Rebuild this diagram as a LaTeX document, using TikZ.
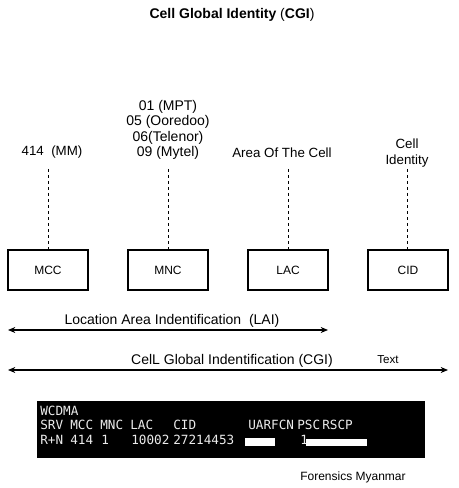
\documentclass[tikz,border=0pt]{standalone}
\usepackage{fontspec}
\setmainfont{Liberation Sans}
\newfontfamily\monof{DejaVu Sans Mono}
\usetikzlibrary{arrows.meta}
\begin{document}
\begin{tikzpicture}[x=0.75pt,y=-0.75pt,
  box/.style={draw,line width=0.8pt,minimum width=60pt,minimum height=30pt,inner sep=0pt,font=\fontsize{9pt}{10.5pt}\selectfont},
  lbl/.style={align=center,inner sep=0pt,font=\fontsize{10pt}{12pt}\selectfont},
  conn/.style={line width=0.6pt,dash pattern=on 2.5pt off 2pt},
  span/.style={line width=0.8pt,{Stealth[length=5.5pt,width=4.5pt]}-{Stealth[length=5.5pt,width=4.5pt]}},
  term/.style={anchor=base west,inner sep=0pt,text=black!8,font=\monof\fontsize{9.5pt}{11pt}\selectfont}]
\useasboundingbox (0,0) rectangle (458,488);
\fill[white] (0,0) rectangle (458,488);

\node[inner sep=0pt,font=\fontsize{10.5pt}{12pt}\selectfont] (title) at (232,15) {\textbf{Cell Global Identity} (\textbf{CGI})};

% labels
\node[lbl] (mccl) at (52,152) {414\ \ (MM)};
\node[lbl,font=\fontsize{10.5pt}{11.6pt}\selectfont] (mncl) at (168,130) {01 (MPT)\\05 (Ooredoo)\\06(Telenor)\\09 (Mytel)};
\node[lbl] (lacl) at (282,153) {Area Of The Cell};
\node[lbl,font=\fontsize{10pt}{12.2pt}\selectfont] (cidl) at (407,153) {Cell\\Identity};

% boxes
\node[box] (mcc) at (48,270) {MCC};
\node[box] (mnc) at (168,270) {MNC};
\node[box] (lac) at (288,270) {LAC};
\node[box] (cid) at (408,270) {CID};

\coordinate (mcct) at (48,169);
\coordinate (mnct) at (168,169);
\coordinate (lact) at (288,169);
\coordinate (cidt) at (407,169);
\draw[conn] (mcct) -- (mcc.north);
\draw[conn] (mnct) -- (mnc.north);
\draw[conn] (lact) -- (lac.north);
\draw[conn] (cidt) -- (cid.north -| cidt);

% spans
\coordinate (laiL) at (8,330);
\coordinate (laiR) at (328,330);
\coordinate (cgiL) at (8,370);
\coordinate (cgiR) at (448,370);
\draw[span] (laiL) -- (laiR);
\draw[span] (cgiL) -- (cgiR);
\node[lbl,font=\fontsize{10.5pt}{12pt}\selectfont] (lail) at (172,321) {Location Area Indentification\ \ (LAI)};
\node[lbl,font=\fontsize{10.5pt}{12pt}\selectfont] (cgil) at (232,361) {CelL Global Indentification (CGI)};
\node[lbl,font=\fontsize{8.7pt}{10pt}\selectfont] (txt) at (388,360) {Text};

% screenshot
\fill[black] (37,401) rectangle (425,458);
\node[term] (w1) at (40,415.5) {WCDMA};
\node[term] (h1) at (40,429.5) {SRV};
\node[term] (h2) at (70,429.5) {MCC};
\node[term] (h3) at (100,429.5) {MNC};
\node[term] (h4) at (130,429.5) {LAC};
\node[term] (h5) at (173,429.5) {CID};
\node[term] (h6) at (248,429.5) {UARFCN};
\node[term] (h7) at (297,429.5) {PSC};
\node[term] (h8) at (322,429.5) {RSCP};
\node[term] (v1) at (40,444.5) {R+N};
\node[term] (v2) at (70,444.5) {414};
\node[term] (v3) at (101,444.5) {1};
\node[term] (v4) at (131,444.5) {10002};
\node[term] (v5) at (173,444.5) {27214453};
\node[term] (v7) at (300,444.5) {1};
\fill[white] (245,438) rectangle (275,446);
\fill[white] (306,439) rectangle (367,446);

\node[inner sep=0pt,font=\fontsize{9pt}{11pt}\selectfont] (fm) at (353,477) {Forensics Myanmar};
\end{tikzpicture}
\end{document}
